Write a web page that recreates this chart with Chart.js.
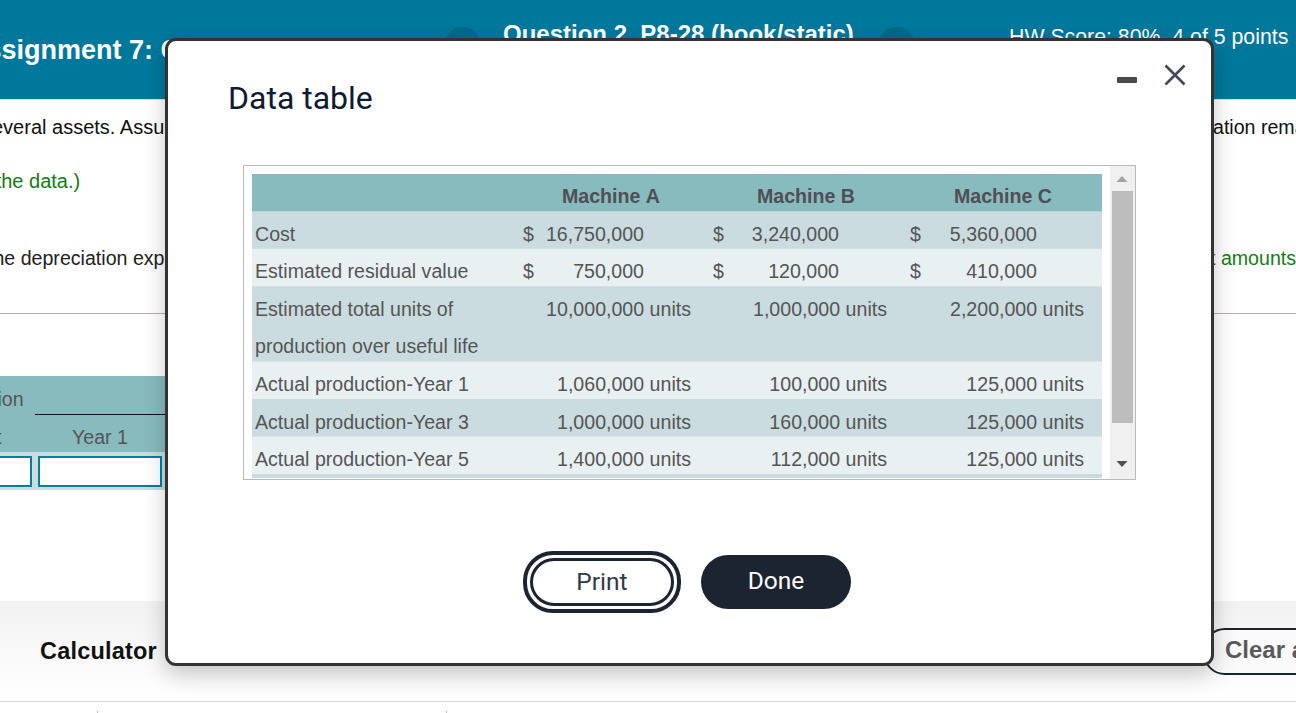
<!DOCTYPE html>
<html>
<head>
<meta charset="utf-8">
<script src="https://cdn.jsdelivr.net/npm/chart.js@4"></script>
<style>
html, body { margin: 0; padding: 0; width: 1296px; height: 713px; overflow: hidden; background: #fff; }
body { position: relative; font-family: "Liberation Sans", Arial, sans-serif; }
.abs { position: absolute; white-space: nowrap; }
#topbar { left: 0; top: 0; width: 1296px; height: 99px; background: #00789c; border-bottom: 1px solid #cfe0e6; }
.dot { width: 37px; height: 37px; border-radius: 50%; background: #006a8a; top: 27px; }
#footer { left: 0; top: 601px; width: 1296px; height: 100px; background: linear-gradient(#f2f2f2, #fff); border-bottom: 1px solid #d9d9d9; }
#modal { left: 165px; top: 38px; width: 1043px; height: 622px; background: #fff; border: 3px solid #333; border-radius: 11px; box-shadow: 0 8px 22px rgba(0,0,0,.22); }
#tablebox { left: 243px; top: 165px; width: 891px; height: 313px; border: 1px solid #bbb; background: #fff; }
#tableclip { left: 252px; top: 174px; width: 850px; height: 304px; overflow: hidden; }
#track { left: 1110px; top: 166px; width: 25px; height: 313px; background: #f0f0f0; }
#thumb { left: 1112px; top: 191px; width: 21px; height: 232px; background: #bdbdbd; }
.btn { border-radius: 30px; text-align: center; font-family: Roboto, sans-serif; font-size: 24.5px; box-sizing: border-box; }
</style>
</head>
<body>
<div class="abs" id="topbar"></div>
<div class="abs dot" style="left:444px"></div>
<div class="abs dot" style="left:878px"></div>
<div class="abs" style="left:-33px;top:35px;font-size:27px;font-weight:bold;color:#fff">Assignment 7: C</div>
<div class="abs" style="left:503px;top:20px;font-size:24px;font-weight:bold;color:#fff">Question 2, P8-28 (book/static)</div>
<div class="abs" style="left:1009px;top:25px;font-size:21.3px;color:#fff">HW Score: 80%, 4 of 5 points</div>

<div class="abs" style="left:-18px;top:116px;font-size:20px;color:#111">several assets. Assume</div>
<div class="abs" style="left:1213px;top:116px;font-size:19.6px;color:#111">ation remains</div>
<div class="abs" style="left:-11px;top:170px;font-size:20px;color:#127d12">(the data.)</div>
<div class="abs" style="left:-12px;top:247px;font-size:19.6px;color:#222">the depreciation expense</div>
<div class="abs" style="left:1210px;top:247px;font-size:19.6px;color:#127d12">t amounts</div>
<div class="abs" style="left:0;top:313px;width:1296px;height:1px;background:#b9aeb2"></div>

<div class="abs" style="left:0;top:376px;width:170px;height:76px;background:#88bbbe"></div>
<div class="abs" style="left:0;top:452px;width:170px;height:38px;background:#cadcdf"></div>
<div class="abs" style="left:35px;top:414px;width:135px;height:1px;background:#111"></div>
<div class="abs" style="left:-8px;top:388px;font-size:19.6px;color:#555">tion</div>
<div class="abs" style="left:-4px;top:426px;font-size:19.6px;color:#555">t</div>
<div class="abs" style="left:72px;top:426px;font-size:19.6px;color:#555">Year 1</div>
<div class="abs" style="left:-20px;top:456px;width:50px;height:29px;background:#fff;border:1px solid #00819f;outline:1px solid #00819f;outline-offset:-2px"></div>
<div class="abs" style="left:38px;top:456px;width:122px;height:29px;background:#fff;border:1px solid #00819f;outline:1px solid #00819f;outline-offset:-2px"></div>

<div class="abs" id="footer"></div>
<div class="abs" style="left:40px;top:638px;font-size:23.5px;font-weight:bold;color:#111;letter-spacing:.2px">Calculator</div>
<div class="abs" style="left:1203px;top:628px;width:140px;height:43px;background:#fafafa;border:2px solid #1c2331;border-radius:22px"></div>
<div class="abs" style="left:1225px;top:636px;font-size:24px;font-weight:bold;color:#5a5a5a">Clear all</div>
<div class="abs" style="left:97px;top:711px;width:1px;height:2px;background:#bbb"></div>
<div class="abs" style="left:446px;top:711px;width:1px;height:2px;background:#bbb"></div>

<div class="abs" id="modal"></div>
<div class="abs" style="left:228px;top:79px;font-family:Roboto,sans-serif;font-size:32px;color:#0f1a33">Data table</div>
<div class="abs" style="left:1117px;top:77px;width:20px;height:6px;border-radius:1px;background:#4a4a4a"></div>
<svg class="abs" style="left:1163px;top:63px" width="24" height="24" viewBox="0 0 24 24"><path d="M2.5 2.5 L21.5 21.5 M21.5 2.5 L2.5 21.5" stroke="#3f4a56" stroke-width="2.6" fill="none"/></svg>

<div class="abs" id="tablebox"></div>
<div class="abs" id="track"></div>
<div class="abs" id="thumb"></div>
<svg class="abs" style="left:1115px;top:174px" width="14" height="10"><path d="M1.5 8 L12.5 8 L7 2 Z" fill="#a3a3a3"/></svg>
<svg class="abs" style="left:1115px;top:459px" width="14" height="10"><path d="M1.5 2 L12.5 2 L7 8 Z" fill="#505050"/></svg>
<div class="abs" id="tableclip"><canvas id="dataTable" width="850" height="338"></canvas></div>

<div class="abs btn" style="left:523px;top:551px;width:158px;height:62px;border:4px solid #1c2331;padding:3px">
  <div style="height:48px;line-height:41px;border:3px solid #1c2331;border-radius:26px;color:#333a45;box-sizing:border-box">Print</div>
</div>
<div class="abs btn" style="left:701px;top:555px;width:150px;height:54px;line-height:52px;background:#1c2331;color:#fff">Done</div>

<script>
// Rows of the table, top to bottom; the last one is scrolled almost out of view
const rowLabels = ['', 'Cost', 'Estimated residual value', 'Estimated total units of', 'production over useful life',
  'Actual production-Year 1', 'Actual production-Year 3', 'Actual production-Year 5', ''];
const rowKinds = ['head', 'dark', 'light', 'dark', 'dark', 'light', 'dark', 'light', 'dark'];
const rowUnits = ['', '$', '$', 'units', '', 'units', 'units', 'units', ''];
const machines = ['Machine A', 'Machine B', 'Machine C'];
const machineA = [null, 16750000, 750000, 10000000, null, 1060000, 1000000, 1400000, null];
const machineB = [null, 3240000, 120000, 1000000, null, 100000, 160000, 112000, null];
const machineC = [null, 5360000, 410000, 2200000, null, 125000, 125000, 125000, null];
const bandValues = [850, 850, 850, 850, 850, 850, 850, 850, 850];

const kindColor = { head: '#88bbbe', dark: '#cadcdf', light: '#e8f0f2' };
const textColor = '#555555';
const font = '19.6px "Liberation Sans", Arial, sans-serif';

// x positions on the 0-850 table scale: header centre, $ sign, right edge of amounts, right edge of units
const columns = [
  { values: machineA, head: 359, sign: 271, money: 392, units: 439 },
  { values: machineB, head: 554, sign: 461, money: 587, units: 635 },
  { values: machineC, head: 751, sign: 658, money: 785, units: 832 }
];
const labelX = 3;
const textDrop = 5;

const tableText = {
  id: 'tableText',
  beforeDatasetsDraw(chart) {
    const g = chart.ctx;
    g.save();
    g.fillStyle = '#fff';
    g.fillRect(0, 0, chart.width, chart.height);
    g.restore();
  },
  afterDatasetsDraw(chart) {
    const { x, y } = chart.scales;
    const g = chart.ctx;
    g.save();
    g.textBaseline = 'middle';
    g.font = font;
    g.fillStyle = textColor;
    g.textAlign = 'left';
    rowLabels.forEach((label, i) => {
      if (label) g.fillText(label, x.getPixelForValue(labelX), y.getPixelForValue(i) + textDrop);
    });
    columns.forEach((col, c) => {
      g.font = 'bold ' + font;
      g.fillStyle = '#4f4f55';
      g.textAlign = 'center';
      g.fillText(machines[c], x.getPixelForValue(col.head), y.getPixelForValue(0) + textDrop);
      g.font = font;
      g.fillStyle = textColor;
      col.values.forEach((v, i) => {
        if (v === null) return;
        const txt = v.toLocaleString('en-US');
        const py = y.getPixelForValue(i) + textDrop;
        if (rowUnits[i] === '$') {
          g.textAlign = 'left';
          g.fillText('$', x.getPixelForValue(col.sign), py);
          g.textAlign = 'right';
          g.fillText(txt, x.getPixelForValue(col.money), py);
        } else {
          g.textAlign = 'right';
          g.fillText(txt + ' ' + rowUnits[i], x.getPixelForValue(col.units), py);
        }
      });
    });
    g.restore();
  }
};

const canvas = document.getElementById('dataTable');
// opaque context so the text gets the same subpixel smoothing as the page
const ctx = canvas.getContext('2d', { alpha: false });
new Chart(ctx, {
  type: 'bar',
  data: {
    labels: rowLabels,
    datasets: [{
      data: bandValues,
      backgroundColor: rowKinds.map(k => kindColor[k]),
      barPercentage: 1,
      categoryPercentage: 1,
      borderWidth: 0
    }]
  },
  options: {
    indexAxis: 'y',
    responsive: false,
    animation: false,
    devicePixelRatio: 1,
    layout: { padding: 0 },
    plugins: { legend: { display: false }, tooltip: { enabled: false } },
    scales: {
      x: { display: false, min: 0, max: 850 },
      y: { display: false }
    }
  },
  plugins: [tableText]
});
</script>
</body>
</html>
